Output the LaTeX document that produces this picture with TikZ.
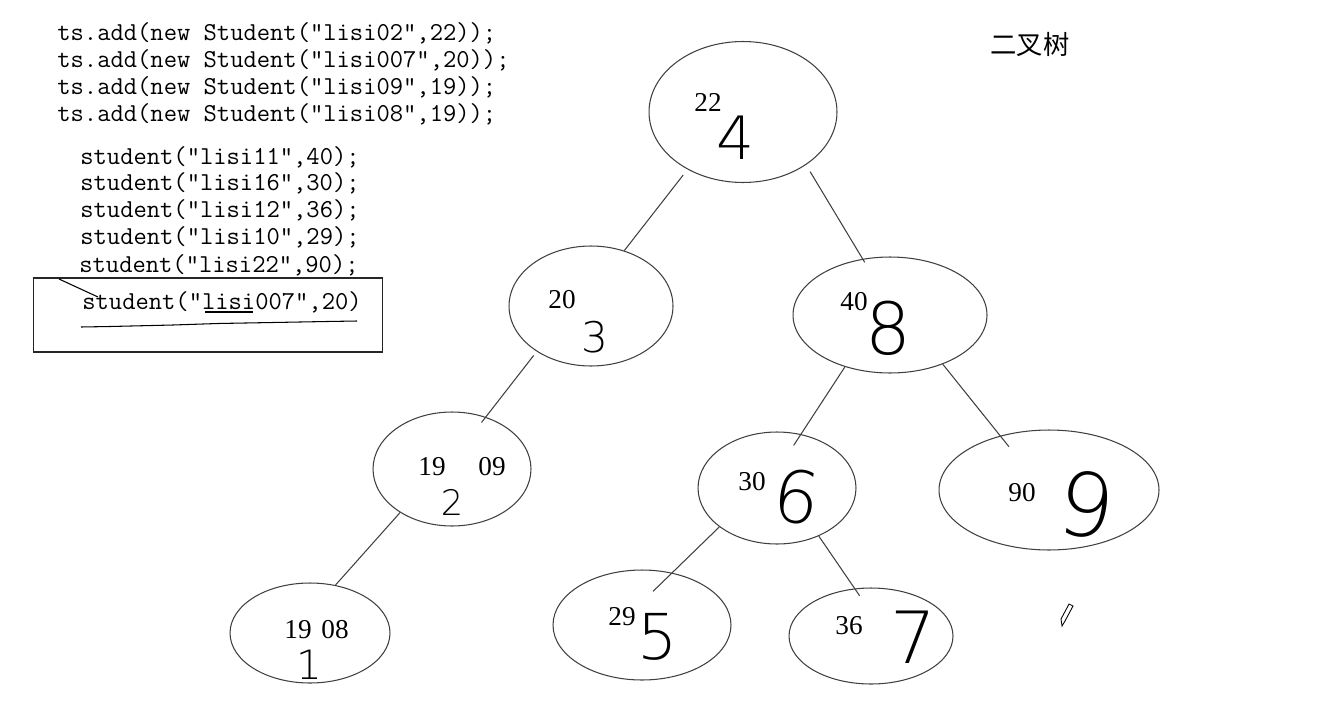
\documentclass[tikz,border=0pt]{standalone}
\usepackage{fontspec}
\usetikzlibrary{shapes.geometric}
\newfontfamily\numfont{Liberation Serif}
\newfontfamily\cjkfont{Noto Sans CJK SC}
\newfontfamily\scrawlfont{DejaVuSans-ExtraLight.ttf}

\begin{document}
\begin{tikzpicture}[
    x=0.02cm, y=-0.02cm,
    bnode/.style 2 args={
      ellipse, draw=black!75, line width=0.6pt,
      minimum width=#1cm, minimum height=#2cm, inner sep=0pt
    },
    num/.style={font=\fontsize{15.5}{15.5}\numfont, inner sep=0pt},
    scrawl/.style={font=\fontsize{#1}{#1}\scrawlfont, inner sep=0pt},
    code/.style={font=\fontsize{14.7}{16}\ttfamily, anchor=west, inner sep=0pt},
    edge/.style={draw=black!75, line width=0.6pt}
  ]
  \useasboundingbox (0,0) rectangle (1317,713);

  % Code lines (left)
  \node[code] (add1) at (57,33)  {ts.add(new Student("lisi02",22));};
  \node[code] (add2) at (57,60)  {ts.add(new Student("lisi007",20));};
  \node[code] (add3) at (57,87)  {ts.add(new Student("lisi09",19));};
  \node[code] (add4) at (57,114) {ts.add(new Student("lisi08",19));};
  \node[code] (st1) at (80,157) {student("lisi11",40);};
  \node[code] (st2) at (80,183) {student("lisi16",30);};
  \node[code] (st3) at (80,210) {student("lisi12",36);};
  \node[code] (st4) at (80,237) {student("lisi10",29);};
  \node[code] (st5) at (79,265) {student("lisi22",90);};

  % Boxed duplicate
  \node[draw=black!85, line width=0.6pt, minimum width=7cm, minimum height=1.48cm,
        inner sep=0pt] (dup) at (208,315) {};
  \node[code] (st6) at (82,302) {student("lisi007",20)};
  \draw[line width=0.6pt] (59,279) -- (98,297);
  \draw[line width=0.6pt] (205,312) -- (253,312);
  \draw[line width=0.6pt] (81,327) -- (110,326.5) -- (173,325) -- (218,323.5)
    -- (273,322.5) -- (327,321.5) -- (357,321);

  % Title
  \node[font=\fontsize{15}{15}\cjkfont, inner sep=0pt] (title) at (1030,44) {二叉树};

  % Tree nodes
  \node[bnode={3.76}{2.82}] (r22)   at (743,112) {};
  \node[bnode={3.28}{2.40}] (n20)   at (591,306) {};
  \node[bnode={3.88}{2.32}] (n40)   at (890,315) {};
  \node[bnode={3.16}{2.28}] (n1909) at (452,469) {};
  \node[bnode={3.16}{2.24}] (n30)   at (777,488) {};
  \node[bnode={4.40}{2.40}] (n90)   at (1049,490) {};
  \node[bnode={3.20}{2.00}] (n1908) at (310,633) {};
  \node[bnode={3.56}{2.20}] (n29)   at (642,625) {};
  \node[bnode={3.28}{1.92}] (n36)   at (871,636) {};

  % Ages and names
  \node[num] (t22)  at (708,102) {22};
  \node[num] (t20)  at (562,300) {20};
  \node[num] (t40)  at (854,302) {40};
  \node[num] (t19a) at (432,467) {19};
  \node[num] (t09)  at (492,467) {09};
  \node[num] (t30)  at (752,482) {30};
  \node[num] (t90)  at (1022,493) {90};
  \node[num] (t19b) at (298,630) {19};
  \node[num] (t08)  at (335,630) {08};
  \node[num] (t29)  at (622,617) {29};
  \node[num] (t36)  at (849,626) {36};

  % Order of the nodes (hand written)
  \node[scrawl=23] (h1) at (309,665) {1};
  \node[scrawl=20] (h2) at (452,502) {2};
  \node[scrawl=24] (h3) at (595,337) {3};
  \node[scrawl=34] (h4) at (735,138) {4};
  \node[scrawl=36] (h5) at (658,637) {5};
  \node[scrawl=41, rotate=-8] (h6) at (797,497) {6};
  \node[scrawl=41] (h7) at (913,637) {7};
  \node[scrawl=41] (h8) at (888,328) {8};
  \node[scrawl=50, rotate=-8] (h9) at (1087,505) {9};

  % Edges
  \foreach \i/\ia/\j/\ja/\g/\e in {r22/-134/n20/59/4/0, r22/-40/n40/116/4.5/2.3,
      n20/-140/n1909/57/2.8/4, n1909/-140/n1908/62/0/0, n40/-131/n30/66/0/7.7,
      n40/-43/n90/132/0/8, n30/-146/n29/60/0/15.2, n30/-49/n36/109/0/5} {
    \draw[edge, shorten <=\g pt, shorten >=-\e pt] (\i.\ia) -- (\j.\ja);
  }

  % Pencil cursor
  \draw[line width=0.5pt, fill=white] (1062,626) -- (1061,619) -- (1069,604)
    -- (1073,606) -- (1065,621) -- cycle;
\end{tikzpicture}
\end{document}
